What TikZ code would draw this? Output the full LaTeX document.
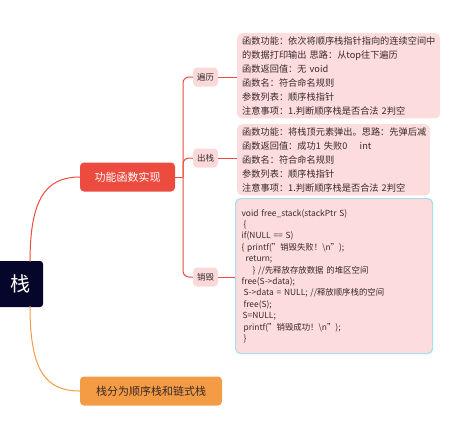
\documentclass[tikz,border=0pt]{standalone}
\usepackage{fontspec}
\setmainfont{Noto Sans CJK SC}
\usepackage{xcolor}
\usetikzlibrary{positioning}
\definecolor{rootblue}{HTML}{06062A}
\definecolor{mainred}{HTML}{EC4B3F}
\definecolor{mainorange}{HTML}{F39B45}
\definecolor{leafpink}{HTML}{FCDCDC}
\definecolor{tagpink}{HTML}{FAD9DB}
\definecolor{codeblue}{HTML}{A9DDF3}
\definecolor{txtgray}{HTML}{3A2A2A}

\begin{document}
\begin{tikzpicture}[x=1pt,y=-1pt,
  rootbox/.style={fill=rootblue,text=white,rounded corners=3pt,minimum width=46pt,minimum height=46pt,font=\fontsize{20}{22}\selectfont},
  topicbox/.style={rounded corners=4pt,minimum height=29pt,inner xsep=8pt,font=\fontsize{11}{13}\selectfont},
  tagbox/.style={fill=tagpink,text=txtgray,rounded corners=4pt,minimum width=25pt,minimum height=19pt,inner sep=2pt,font=\fontsize{8.5}{10}\selectfont},
  notebox/.style={fill=leafpink,text=txtgray,rounded corners=5pt,anchor=north west,align=left,inner xsep=5pt,font=\fontsize{9.2}{14}\selectfont},
  redline/.style={draw=mainred,line width=1pt},
  ]
 \useasboundingbox (0,0) rectangle (474,426);

 % root and main topics
 \node[rootbox] (root) at (20,284) {栈};
 \node[topicbox,fill=mainred,text=white,minimum width=95pt] (func) at (127.5,177) {功能函数实现};
 \node[topicbox,fill=mainorange,text=txtgray,minimum width=142pt] (kind) at (151,391) {栈分为顺序栈和链式栈};

 \draw[redline] (30,262) .. controls (30,200) and (45,177) .. (func.west);
 \draw[draw=mainorange,line width=1pt] (30,306) .. controls (30,370) and (45,391) .. (kind.west);

 % sub topics
 \node[tagbox] (trav) at (205.5,77) {遍历};
 \node[tagbox] (pop) at (205.5,158) {出栈};
 \node[tagbox] (destroy) at (205.5,277) {销毁};

 \coordinate (fork) at (183,177);
 \draw[redline] (func.east) -- (fork);
 \draw[redline,rounded corners=6pt] (fork) |- (trav.west);
 \draw[redline,rounded corners=6pt] (fork) |- (pop.west);
 \draw[redline,rounded corners=6pt] (fork) |- (destroy.west);

 % notes
 \node[notebox,text width=193pt,minimum height=84pt] (travnote) at (237,33)
  {函数功能：依次将顺序栈指针指向的连续空间中\\
   的数据打印输出 思路：从top往下遍历\\
   函数返回值：无 void\\
   函数名：符合命名规则\\
   参数列表：顺序栈指针\\
   注意事项：1.判断顺序栈是否合法 2判空};
 \node[notebox,text width=183pt,minimum height=69pt] (popnote) at (237,124)
  {函数功能：将栈顶元素弹出。思路：先弹后减\\
   函数返回值：成功1 失败0\quad\ int\\
   函数名：符合命名规则\\
   参数列表：顺序栈指针\\
   注意事项：1.判断顺序栈是否合法 2判空};
 \node[notebox,draw=codeblue,line width=1.2pt,inner xsep=6pt,text width=185pt,minimum height=155pt,font=\fontsize{8.4}{11.4}\selectfont] (freenote) at (235,198)
  {void free\_stack(stackPtr S)\\
   \hspace*{2pt}\{\\
   if(NULL == S)\\
   \{ printf("销毁失败！\textbackslash n");\\
   \hspace*{4pt}return;\\
   \hspace*{11pt}\} //先释放存放数据 的堆区空间\\
   free(S->data);\\
   \hspace*{2pt}S->data = NULL; //释放顺序栈的空间\\
   \hspace*{2pt}free(S);\\
   \hspace*{1pt}S=NULL;\\
   \hspace*{2pt}printf("销毁成功！\textbackslash n");\\
   \hspace*{2pt}\}};

 \draw[redline] (trav.east) -- (travnote.west |- trav.east);
 \draw[redline] (pop.east) -- (popnote.west |- pop.east);
 \draw[redline] (destroy.east) -- (freenote.west |- destroy.east);
\end{tikzpicture}
\end{document}
